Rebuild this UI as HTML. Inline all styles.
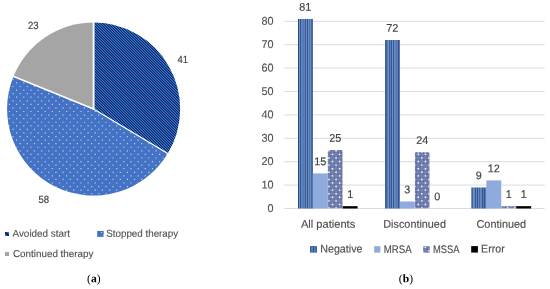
<!DOCTYPE html>
<html><head><meta charset="utf-8"><title>Figure</title>
<style>
html,body{margin:0;padding:0;background:#fff;}
svg{display:block;}
text{font-family:"Liberation Sans",sans-serif;text-rendering:geometricPrecision;}
.s{font-family:"Liberation Serif",serif;}
</style></head><body>
<svg width="550" height="289" viewBox="0 0 550 289">
<defs>
<clipPath id="c1"><path d="M93.60,109.00 L93.60,22.50 A86.50,86.50 0 0 1 167.76,153.53 Z"/></clipPath>
<clipPath id="c2"><path d="M93.60,109.00 L167.76,153.53 A86.50,86.50 0 0 1 13.47,76.41 Z"/></clipPath>
</defs>
<rect width="550" height="289" fill="#ffffff"/>

<g clip-path="url(#c1)"><rect x="91.6" y="21.50" width="90.50" height="175.00" fill="#4c9eeb"/>
<path d="M-89.40,20.50l183.0,183.0M-86.73,20.50l183.0,183.0M-84.07,20.50l183.0,183.0M-81.40,20.50l183.0,183.0M-78.73,20.50l183.0,183.0M-76.07,20.50l183.0,183.0M-73.40,20.50l183.0,183.0M-70.73,20.50l183.0,183.0M-68.07,20.50l183.0,183.0M-65.40,20.50l183.0,183.0M-62.73,20.50l183.0,183.0M-60.07,20.50l183.0,183.0M-57.40,20.50l183.0,183.0M-54.73,20.50l183.0,183.0M-52.07,20.50l183.0,183.0M-49.40,20.50l183.0,183.0M-46.73,20.50l183.0,183.0M-44.07,20.50l183.0,183.0M-41.40,20.50l183.0,183.0M-38.73,20.50l183.0,183.0M-36.07,20.50l183.0,183.0M-33.40,20.50l183.0,183.0M-30.73,20.50l183.0,183.0M-28.07,20.50l183.0,183.0M-25.40,20.50l183.0,183.0M-22.73,20.50l183.0,183.0M-20.07,20.50l183.0,183.0M-17.40,20.50l183.0,183.0M-14.73,20.50l183.0,183.0M-12.07,20.50l183.0,183.0M-9.40,20.50l183.0,183.0M-6.73,20.50l183.0,183.0M-4.07,20.50l183.0,183.0M-1.40,20.50l183.0,183.0M1.27,20.50l183.0,183.0M3.93,20.50l183.0,183.0M6.60,20.50l183.0,183.0M9.27,20.50l183.0,183.0M11.93,20.50l183.0,183.0M14.60,20.50l183.0,183.0M17.27,20.50l183.0,183.0M19.93,20.50l183.0,183.0M22.60,20.50l183.0,183.0M25.27,20.50l183.0,183.0M27.93,20.50l183.0,183.0M30.60,20.50l183.0,183.0M33.27,20.50l183.0,183.0M35.93,20.50l183.0,183.0M38.60,20.50l183.0,183.0M41.27,20.50l183.0,183.0M43.93,20.50l183.0,183.0M46.60,20.50l183.0,183.0M49.27,20.50l183.0,183.0M51.93,20.50l183.0,183.0M54.60,20.50l183.0,183.0M57.27,20.50l183.0,183.0M59.93,20.50l183.0,183.0M62.60,20.50l183.0,183.0M65.27,20.50l183.0,183.0M67.93,20.50l183.0,183.0M70.60,20.50l183.0,183.0M73.27,20.50l183.0,183.0M75.93,20.50l183.0,183.0M78.60,20.50l183.0,183.0M81.27,20.50l183.0,183.0M83.93,20.50l183.0,183.0M86.60,20.50l183.0,183.0M89.27,20.50l183.0,183.0M91.93,20.50l183.0,183.0M94.60,20.50l183.0,183.0M97.27,20.50l183.0,183.0M99.93,20.50l183.0,183.0M102.60,20.50l183.0,183.0M105.27,20.50l183.0,183.0M107.93,20.50l183.0,183.0M110.60,20.50l183.0,183.0M113.27,20.50l183.0,183.0M115.93,20.50l183.0,183.0M118.60,20.50l183.0,183.0M121.27,20.50l183.0,183.0M123.93,20.50l183.0,183.0M126.60,20.50l183.0,183.0M129.27,20.50l183.0,183.0M131.93,20.50l183.0,183.0M134.60,20.50l183.0,183.0M137.27,20.50l183.0,183.0M139.93,20.50l183.0,183.0M142.60,20.50l183.0,183.0M145.27,20.50l183.0,183.0M147.93,20.50l183.0,183.0M150.60,20.50l183.0,183.0M153.27,20.50l183.0,183.0M155.93,20.50l183.0,183.0M158.60,20.50l183.0,183.0M161.27,20.50l183.0,183.0M163.93,20.50l183.0,183.0M166.60,20.50l183.0,183.0M169.27,20.50l183.0,183.0M171.93,20.50l183.0,183.0M174.60,20.50l183.0,183.0M177.27,20.50l183.0,183.0M179.93,20.50l183.0,183.0M182.60,20.50l183.0,183.0" stroke="#000e58" stroke-width="1.04" fill="none"/></g>
<g clip-path="url(#c2)"><rect x="0" y="21.50" width="182.10" height="175.00" fill="#4472c4"/>
<path d="M-5.45,25.70H188.1M-5.45,32.85H188.1M-5.45,40.00H188.1M-5.45,47.15H188.1M-5.45,54.30H188.1M-5.45,61.45H188.1M-5.45,68.60H188.1M-5.45,75.75H188.1M-5.45,82.90H188.1M-5.45,90.05H188.1M-5.45,97.20H188.1M-5.45,104.35H188.1M-5.45,111.50H188.1M-5.45,118.65H188.1M-5.45,125.80H188.1M-5.45,132.95H188.1M-5.45,140.10H188.1M-5.45,147.25H188.1M-5.45,154.40H188.1M-5.45,161.55H188.1M-5.45,168.70H188.1M-5.45,175.85H188.1M-5.45,183.00H188.1M-5.45,190.15H188.1M-5.45,197.30H188.1M-1.88,22.12H188.1M-1.88,29.28H188.1M-1.88,36.42H188.1M-1.88,43.58H188.1M-1.88,50.73H188.1M-1.88,57.88H188.1M-1.88,65.03H188.1M-1.88,72.18H188.1M-1.88,79.33H188.1M-1.88,86.48H188.1M-1.88,93.62H188.1M-1.88,100.78H188.1M-1.88,107.93H188.1M-1.88,115.08H188.1M-1.88,122.23H188.1M-1.88,129.38H188.1M-1.88,136.53H188.1M-1.88,143.68H188.1M-1.88,150.83H188.1M-1.88,157.98H188.1M-1.88,165.12H188.1M-1.88,172.28H188.1M-1.88,179.43H188.1M-1.88,186.58H188.1M-1.88,193.73H188.1" stroke="#bccdec" stroke-width="1.2" stroke-dasharray="1.2 5.95" fill="none"/></g>
<path d="M93.60,109.00 L13.47,76.41 A86.50,86.50 0 0 1 93.60,22.50 Z" fill="#a5a5a5"/>
<path d="M93.60,109.00L93.60,21.50" stroke="#ffffff" stroke-width="1.9" stroke-linecap="round"/>
<path d="M93.60,109.00L168.62,154.04" stroke="#ffffff" stroke-width="1.2" stroke-linecap="round"/>
<path d="M93.60,109.00L12.55,76.04" stroke="#ffffff" stroke-width="1.6" stroke-linecap="round"/>
<g fill="#404040" stroke="#404040" stroke-width="0.15">
<text transform="translate(28.00,28.80) rotate(0.03) scale(0.91,1)" font-size="10.5">23</text>
<text transform="translate(177.50,62.80) rotate(0.03) scale(0.91,1)" font-size="10.5">41</text>
<text transform="translate(38.50,202.70) rotate(0.03) scale(0.91,1)" font-size="10.5">58</text>
</g>
<rect x="5" y="232" width="4" height="4" fill="#2f78cb"/><path d="M5,232h1.4l2.6,2.6v1.4h-1.4l-2.6,-2.6z" fill="#04206e"/>
<rect x="97.2" y="230.9" width="6.5" height="6" fill="#4472c4"/><rect x="101" y="232" width="1.1" height="1.1" fill="#bccdec"/><rect x="102.6" y="234.6" width="1.1" height="1.1" fill="#bccdec"/>
<rect x="5" y="252.1" width="4" height="3.9" fill="#a5a5a5"/>
<g font-size="9.9" fill="#505050" stroke="#505050" stroke-width="0.12">
<text transform="translate(12.5,236.8) rotate(0.03)" textLength="57.6" lengthAdjust="spacingAndGlyphs">Avoided start</text>
<text transform="translate(106.2,236.8) rotate(0.03)" textLength="72" lengthAdjust="spacingAndGlyphs">Stopped therapy</text>
<text transform="translate(12.9,257) rotate(0.03)" textLength="80.6" lengthAdjust="spacingAndGlyphs">Continued therapy</text>
</g>
<text class="s" transform="translate(87.1,282.2) rotate(0.03)" font-size="11.6" fill="#000">(<tspan font-weight="bold">a</tspan>)</text>
<text class="s" transform="translate(398.8,282.2) rotate(0.03)" font-size="11.6" fill="#000">(<tspan font-weight="bold">b</tspan>)</text>
<line x1="284.3" x2="544.6" y1="208.50" y2="208.50" stroke="#d9d9d9" stroke-width="0.95"/>
<line x1="284.3" x2="544.6" y1="185.10" y2="185.10" stroke="#d9d9d9" stroke-width="0.95"/>
<line x1="284.3" x2="544.6" y1="161.70" y2="161.70" stroke="#d9d9d9" stroke-width="0.95"/>
<line x1="284.3" x2="544.6" y1="138.30" y2="138.30" stroke="#d9d9d9" stroke-width="0.95"/>
<line x1="284.3" x2="544.6" y1="114.90" y2="114.90" stroke="#d9d9d9" stroke-width="0.95"/>
<line x1="284.3" x2="544.6" y1="91.50" y2="91.50" stroke="#d9d9d9" stroke-width="0.95"/>
<line x1="284.3" x2="544.6" y1="68.10" y2="68.10" stroke="#d9d9d9" stroke-width="0.95"/>
<line x1="284.3" x2="544.6" y1="44.70" y2="44.70" stroke="#d9d9d9" stroke-width="0.95"/>
<line x1="284.3" x2="544.6" y1="21.30" y2="21.30" stroke="#d9d9d9" stroke-width="0.95"/>
<g fill="#505050" stroke="#505050" stroke-width="0.12">
<text transform="translate(273.60,211.90) rotate(0.03) scale(0.96,1)" font-size="11.3" text-anchor="end">0</text>
<text transform="translate(273.60,188.50) rotate(0.03) scale(0.96,1)" font-size="11.3" text-anchor="end">10</text>
<text transform="translate(273.60,165.10) rotate(0.03) scale(0.96,1)" font-size="11.3" text-anchor="end">20</text>
<text transform="translate(273.60,141.70) rotate(0.03) scale(0.96,1)" font-size="11.3" text-anchor="end">30</text>
<text transform="translate(273.60,118.30) rotate(0.03) scale(0.96,1)" font-size="11.3" text-anchor="end">40</text>
<text transform="translate(273.60,94.90) rotate(0.03) scale(0.96,1)" font-size="11.3" text-anchor="end">50</text>
<text transform="translate(273.60,71.50) rotate(0.03) scale(0.96,1)" font-size="11.3" text-anchor="end">60</text>
<text transform="translate(273.60,48.10) rotate(0.03) scale(0.96,1)" font-size="11.3" text-anchor="end">70</text>
<text transform="translate(273.60,24.70) rotate(0.03) scale(0.96,1)" font-size="11.3" text-anchor="end">80</text>
</g>
<rect x="298" y="18.96" width="1" height="189.54" fill="#284b87"/>
<rect x="299" y="18.96" width="1" height="189.54" fill="#6996c3"/>
<rect x="300" y="18.96" width="1" height="189.54" fill="#375096"/>
<rect x="301" y="18.96" width="1" height="189.54" fill="#6487b9"/>
<rect x="302" y="18.96" width="1" height="189.54" fill="#5a7db4"/>
<rect x="303" y="18.96" width="1" height="189.54" fill="#5578b4"/>
<rect x="304" y="18.96" width="1" height="189.54" fill="#5f82b9"/>
<rect x="305" y="18.96" width="1" height="189.54" fill="#395a96"/>
<rect x="306" y="18.96" width="1" height="189.54" fill="#6e91c3"/>
<rect x="307" y="18.96" width="1" height="189.54" fill="#325596"/>
<rect x="308" y="18.96" width="1" height="189.54" fill="#6991be"/>
<rect x="309" y="18.96" width="1" height="189.54" fill="#5073af"/>
<rect x="310" y="18.96" width="1" height="189.54" fill="#648cb9"/>
<rect x="311" y="18.96" width="1" height="189.54" fill="#4669a5"/>
<rect x="312" y="18.96" width="1" height="189.54" fill="#4b6ea5"/>
<rect x="312.83" y="173.40" width="14.93" height="35.10" fill="#8faadc"/>
<clipPath id="m1"><rect x="327.76" y="150.00" width="14.93" height="58.50"/></clipPath>
<g clip-path="url(#m1)"><rect x="327.76" y="150.00" width="14.93" height="58.50" fill="#7281af"/>
<path d="M322.61,149.04l0.95,-0.95l0.95,0.95l-0.95,0.95zM326.19,149.04l0.95,-0.95l0.95,0.95l-0.95,0.95zM329.76,149.04l0.95,-0.95l0.95,0.95l-0.95,0.95zM333.34,149.04l0.95,-0.95l0.95,0.95l-0.95,0.95zM336.91,149.04l0.95,-0.95l0.95,0.95l-0.95,0.95zM340.49,149.04l0.95,-0.95l0.95,0.95l-0.95,0.95zM322.61,152.61l0.95,-0.95l0.95,0.95l-0.95,0.95zM326.19,152.61l0.95,-0.95l0.95,0.95l-0.95,0.95zM329.76,152.61l0.95,-0.95l0.95,0.95l-0.95,0.95zM333.34,152.61l0.95,-0.95l0.95,0.95l-0.95,0.95zM336.91,152.61l0.95,-0.95l0.95,0.95l-0.95,0.95zM340.49,152.61l0.95,-0.95l0.95,0.95l-0.95,0.95zM322.61,156.19l0.95,-0.95l0.95,0.95l-0.95,0.95zM326.19,156.19l0.95,-0.95l0.95,0.95l-0.95,0.95zM329.76,156.19l0.95,-0.95l0.95,0.95l-0.95,0.95zM333.34,156.19l0.95,-0.95l0.95,0.95l-0.95,0.95zM336.91,156.19l0.95,-0.95l0.95,0.95l-0.95,0.95zM340.49,156.19l0.95,-0.95l0.95,0.95l-0.95,0.95zM322.61,159.76l0.95,-0.95l0.95,0.95l-0.95,0.95zM326.19,159.76l0.95,-0.95l0.95,0.95l-0.95,0.95zM329.76,159.76l0.95,-0.95l0.95,0.95l-0.95,0.95zM333.34,159.76l0.95,-0.95l0.95,0.95l-0.95,0.95zM336.91,159.76l0.95,-0.95l0.95,0.95l-0.95,0.95zM340.49,159.76l0.95,-0.95l0.95,0.95l-0.95,0.95zM322.61,163.34l0.95,-0.95l0.95,0.95l-0.95,0.95zM326.19,163.34l0.95,-0.95l0.95,0.95l-0.95,0.95zM329.76,163.34l0.95,-0.95l0.95,0.95l-0.95,0.95zM333.34,163.34l0.95,-0.95l0.95,0.95l-0.95,0.95zM336.91,163.34l0.95,-0.95l0.95,0.95l-0.95,0.95zM340.49,163.34l0.95,-0.95l0.95,0.95l-0.95,0.95zM322.61,166.91l0.95,-0.95l0.95,0.95l-0.95,0.95zM326.19,166.91l0.95,-0.95l0.95,0.95l-0.95,0.95zM329.76,166.91l0.95,-0.95l0.95,0.95l-0.95,0.95zM333.34,166.91l0.95,-0.95l0.95,0.95l-0.95,0.95zM336.91,166.91l0.95,-0.95l0.95,0.95l-0.95,0.95zM340.49,166.91l0.95,-0.95l0.95,0.95l-0.95,0.95zM322.61,170.49l0.95,-0.95l0.95,0.95l-0.95,0.95zM326.19,170.49l0.95,-0.95l0.95,0.95l-0.95,0.95zM329.76,170.49l0.95,-0.95l0.95,0.95l-0.95,0.95zM333.34,170.49l0.95,-0.95l0.95,0.95l-0.95,0.95zM336.91,170.49l0.95,-0.95l0.95,0.95l-0.95,0.95zM340.49,170.49l0.95,-0.95l0.95,0.95l-0.95,0.95zM322.61,174.06l0.95,-0.95l0.95,0.95l-0.95,0.95zM326.19,174.06l0.95,-0.95l0.95,0.95l-0.95,0.95zM329.76,174.06l0.95,-0.95l0.95,0.95l-0.95,0.95zM333.34,174.06l0.95,-0.95l0.95,0.95l-0.95,0.95zM336.91,174.06l0.95,-0.95l0.95,0.95l-0.95,0.95zM340.49,174.06l0.95,-0.95l0.95,0.95l-0.95,0.95zM322.61,177.64l0.95,-0.95l0.95,0.95l-0.95,0.95zM326.19,177.64l0.95,-0.95l0.95,0.95l-0.95,0.95zM329.76,177.64l0.95,-0.95l0.95,0.95l-0.95,0.95zM333.34,177.64l0.95,-0.95l0.95,0.95l-0.95,0.95zM336.91,177.64l0.95,-0.95l0.95,0.95l-0.95,0.95zM340.49,177.64l0.95,-0.95l0.95,0.95l-0.95,0.95zM322.61,181.21l0.95,-0.95l0.95,0.95l-0.95,0.95zM326.19,181.21l0.95,-0.95l0.95,0.95l-0.95,0.95zM329.76,181.21l0.95,-0.95l0.95,0.95l-0.95,0.95zM333.34,181.21l0.95,-0.95l0.95,0.95l-0.95,0.95zM336.91,181.21l0.95,-0.95l0.95,0.95l-0.95,0.95zM340.49,181.21l0.95,-0.95l0.95,0.95l-0.95,0.95zM322.61,184.79l0.95,-0.95l0.95,0.95l-0.95,0.95zM326.19,184.79l0.95,-0.95l0.95,0.95l-0.95,0.95zM329.76,184.79l0.95,-0.95l0.95,0.95l-0.95,0.95zM333.34,184.79l0.95,-0.95l0.95,0.95l-0.95,0.95zM336.91,184.79l0.95,-0.95l0.95,0.95l-0.95,0.95zM340.49,184.79l0.95,-0.95l0.95,0.95l-0.95,0.95zM322.61,188.36l0.95,-0.95l0.95,0.95l-0.95,0.95zM326.19,188.36l0.95,-0.95l0.95,0.95l-0.95,0.95zM329.76,188.36l0.95,-0.95l0.95,0.95l-0.95,0.95zM333.34,188.36l0.95,-0.95l0.95,0.95l-0.95,0.95zM336.91,188.36l0.95,-0.95l0.95,0.95l-0.95,0.95zM340.49,188.36l0.95,-0.95l0.95,0.95l-0.95,0.95zM322.61,191.94l0.95,-0.95l0.95,0.95l-0.95,0.95zM326.19,191.94l0.95,-0.95l0.95,0.95l-0.95,0.95zM329.76,191.94l0.95,-0.95l0.95,0.95l-0.95,0.95zM333.34,191.94l0.95,-0.95l0.95,0.95l-0.95,0.95zM336.91,191.94l0.95,-0.95l0.95,0.95l-0.95,0.95zM340.49,191.94l0.95,-0.95l0.95,0.95l-0.95,0.95zM322.61,195.51l0.95,-0.95l0.95,0.95l-0.95,0.95zM326.19,195.51l0.95,-0.95l0.95,0.95l-0.95,0.95zM329.76,195.51l0.95,-0.95l0.95,0.95l-0.95,0.95zM333.34,195.51l0.95,-0.95l0.95,0.95l-0.95,0.95zM336.91,195.51l0.95,-0.95l0.95,0.95l-0.95,0.95zM340.49,195.51l0.95,-0.95l0.95,0.95l-0.95,0.95zM322.61,199.09l0.95,-0.95l0.95,0.95l-0.95,0.95zM326.19,199.09l0.95,-0.95l0.95,0.95l-0.95,0.95zM329.76,199.09l0.95,-0.95l0.95,0.95l-0.95,0.95zM333.34,199.09l0.95,-0.95l0.95,0.95l-0.95,0.95zM336.91,199.09l0.95,-0.95l0.95,0.95l-0.95,0.95zM340.49,199.09l0.95,-0.95l0.95,0.95l-0.95,0.95zM322.61,202.66l0.95,-0.95l0.95,0.95l-0.95,0.95zM326.19,202.66l0.95,-0.95l0.95,0.95l-0.95,0.95zM329.76,202.66l0.95,-0.95l0.95,0.95l-0.95,0.95zM333.34,202.66l0.95,-0.95l0.95,0.95l-0.95,0.95zM336.91,202.66l0.95,-0.95l0.95,0.95l-0.95,0.95zM340.49,202.66l0.95,-0.95l0.95,0.95l-0.95,0.95zM322.61,206.24l0.95,-0.95l0.95,0.95l-0.95,0.95zM326.19,206.24l0.95,-0.95l0.95,0.95l-0.95,0.95zM329.76,206.24l0.95,-0.95l0.95,0.95l-0.95,0.95zM333.34,206.24l0.95,-0.95l0.95,0.95l-0.95,0.95zM336.91,206.24l0.95,-0.95l0.95,0.95l-0.95,0.95zM340.49,206.24l0.95,-0.95l0.95,0.95l-0.95,0.95zM322.61,209.81l0.95,-0.95l0.95,0.95l-0.95,0.95zM326.19,209.81l0.95,-0.95l0.95,0.95l-0.95,0.95zM329.76,209.81l0.95,-0.95l0.95,0.95l-0.95,0.95zM333.34,209.81l0.95,-0.95l0.95,0.95l-0.95,0.95zM336.91,209.81l0.95,-0.95l0.95,0.95l-0.95,0.95zM340.49,209.81l0.95,-0.95l0.95,0.95l-0.95,0.95z" fill="#5a6998"/>
<path d="M317.50,154.40H344.7M317.50,161.55H344.7M317.50,168.70H344.7M317.50,175.85H344.7M317.50,183.00H344.7M317.50,190.15H344.7M317.50,197.30H344.7M317.50,204.45H344.7M313.93,150.82H344.7M313.93,157.97H344.7M313.93,165.12H344.7M313.93,172.28H344.7M313.93,179.43H344.7M313.93,186.57H344.7M313.93,193.72H344.7M313.93,200.88H344.7M313.93,208.03H344.7" stroke="#ffffff" stroke-width="1.4" stroke-dasharray="1.4 5.75" fill="none"/></g>
<rect x="342.69" y="206.16" width="14.93" height="2.34" fill="#000000"/>
<rect x="385" y="40.02" width="1" height="168.48" fill="#4164a0"/>
<rect x="386" y="40.02" width="1" height="168.48" fill="#415fa0"/>
<rect x="387" y="40.02" width="1" height="168.48" fill="#557db4"/>
<rect x="388" y="40.02" width="1" height="168.48" fill="#6996c3"/>
<rect x="389" y="40.02" width="1" height="168.48" fill="#3c5aa0"/>
<rect x="390" y="40.02" width="1" height="168.48" fill="#5f82be"/>
<rect x="391" y="40.02" width="1" height="168.48" fill="#325596"/>
<rect x="392" y="40.02" width="1" height="168.48" fill="#6e91c3"/>
<rect x="393" y="40.02" width="1" height="168.48" fill="#375a96"/>
<rect x="394" y="40.02" width="1" height="168.48" fill="#6487be"/>
<rect x="395" y="40.02" width="1" height="168.48" fill="#5f82b9"/>
<rect x="396" y="40.02" width="1" height="168.48" fill="#5578af"/>
<rect x="397" y="40.02" width="1" height="168.48" fill="#5a7db4"/>
<rect x="398" y="40.02" width="1" height="168.48" fill="#375596"/>
<rect x="399" y="40.02" width="1" height="168.48" fill="#5a78af"/>
<rect x="399.83" y="201.48" width="14.93" height="7.02" fill="#8faadc"/>
<clipPath id="m2"><rect x="414.76" y="152.34" width="14.93" height="56.16"/></clipPath>
<g clip-path="url(#m2)"><rect x="414.76" y="152.34" width="14.93" height="56.16" fill="#7281af"/>
<path d="M408.41,152.61l0.95,-0.95l0.95,0.95l-0.95,0.95zM411.99,152.61l0.95,-0.95l0.95,0.95l-0.95,0.95zM415.56,152.61l0.95,-0.95l0.95,0.95l-0.95,0.95zM419.14,152.61l0.95,-0.95l0.95,0.95l-0.95,0.95zM422.71,152.61l0.95,-0.95l0.95,0.95l-0.95,0.95zM426.29,152.61l0.95,-0.95l0.95,0.95l-0.95,0.95zM429.86,152.61l0.95,-0.95l0.95,0.95l-0.95,0.95zM408.41,156.19l0.95,-0.95l0.95,0.95l-0.95,0.95zM411.99,156.19l0.95,-0.95l0.95,0.95l-0.95,0.95zM415.56,156.19l0.95,-0.95l0.95,0.95l-0.95,0.95zM419.14,156.19l0.95,-0.95l0.95,0.95l-0.95,0.95zM422.71,156.19l0.95,-0.95l0.95,0.95l-0.95,0.95zM426.29,156.19l0.95,-0.95l0.95,0.95l-0.95,0.95zM429.86,156.19l0.95,-0.95l0.95,0.95l-0.95,0.95zM408.41,159.76l0.95,-0.95l0.95,0.95l-0.95,0.95zM411.99,159.76l0.95,-0.95l0.95,0.95l-0.95,0.95zM415.56,159.76l0.95,-0.95l0.95,0.95l-0.95,0.95zM419.14,159.76l0.95,-0.95l0.95,0.95l-0.95,0.95zM422.71,159.76l0.95,-0.95l0.95,0.95l-0.95,0.95zM426.29,159.76l0.95,-0.95l0.95,0.95l-0.95,0.95zM429.86,159.76l0.95,-0.95l0.95,0.95l-0.95,0.95zM408.41,163.34l0.95,-0.95l0.95,0.95l-0.95,0.95zM411.99,163.34l0.95,-0.95l0.95,0.95l-0.95,0.95zM415.56,163.34l0.95,-0.95l0.95,0.95l-0.95,0.95zM419.14,163.34l0.95,-0.95l0.95,0.95l-0.95,0.95zM422.71,163.34l0.95,-0.95l0.95,0.95l-0.95,0.95zM426.29,163.34l0.95,-0.95l0.95,0.95l-0.95,0.95zM429.86,163.34l0.95,-0.95l0.95,0.95l-0.95,0.95zM408.41,166.91l0.95,-0.95l0.95,0.95l-0.95,0.95zM411.99,166.91l0.95,-0.95l0.95,0.95l-0.95,0.95zM415.56,166.91l0.95,-0.95l0.95,0.95l-0.95,0.95zM419.14,166.91l0.95,-0.95l0.95,0.95l-0.95,0.95zM422.71,166.91l0.95,-0.95l0.95,0.95l-0.95,0.95zM426.29,166.91l0.95,-0.95l0.95,0.95l-0.95,0.95zM429.86,166.91l0.95,-0.95l0.95,0.95l-0.95,0.95zM408.41,170.49l0.95,-0.95l0.95,0.95l-0.95,0.95zM411.99,170.49l0.95,-0.95l0.95,0.95l-0.95,0.95zM415.56,170.49l0.95,-0.95l0.95,0.95l-0.95,0.95zM419.14,170.49l0.95,-0.95l0.95,0.95l-0.95,0.95zM422.71,170.49l0.95,-0.95l0.95,0.95l-0.95,0.95zM426.29,170.49l0.95,-0.95l0.95,0.95l-0.95,0.95zM429.86,170.49l0.95,-0.95l0.95,0.95l-0.95,0.95zM408.41,174.06l0.95,-0.95l0.95,0.95l-0.95,0.95zM411.99,174.06l0.95,-0.95l0.95,0.95l-0.95,0.95zM415.56,174.06l0.95,-0.95l0.95,0.95l-0.95,0.95zM419.14,174.06l0.95,-0.95l0.95,0.95l-0.95,0.95zM422.71,174.06l0.95,-0.95l0.95,0.95l-0.95,0.95zM426.29,174.06l0.95,-0.95l0.95,0.95l-0.95,0.95zM429.86,174.06l0.95,-0.95l0.95,0.95l-0.95,0.95zM408.41,177.64l0.95,-0.95l0.95,0.95l-0.95,0.95zM411.99,177.64l0.95,-0.95l0.95,0.95l-0.95,0.95zM415.56,177.64l0.95,-0.95l0.95,0.95l-0.95,0.95zM419.14,177.64l0.95,-0.95l0.95,0.95l-0.95,0.95zM422.71,177.64l0.95,-0.95l0.95,0.95l-0.95,0.95zM426.29,177.64l0.95,-0.95l0.95,0.95l-0.95,0.95zM429.86,177.64l0.95,-0.95l0.95,0.95l-0.95,0.95zM408.41,181.21l0.95,-0.95l0.95,0.95l-0.95,0.95zM411.99,181.21l0.95,-0.95l0.95,0.95l-0.95,0.95zM415.56,181.21l0.95,-0.95l0.95,0.95l-0.95,0.95zM419.14,181.21l0.95,-0.95l0.95,0.95l-0.95,0.95zM422.71,181.21l0.95,-0.95l0.95,0.95l-0.95,0.95zM426.29,181.21l0.95,-0.95l0.95,0.95l-0.95,0.95zM429.86,181.21l0.95,-0.95l0.95,0.95l-0.95,0.95zM408.41,184.79l0.95,-0.95l0.95,0.95l-0.95,0.95zM411.99,184.79l0.95,-0.95l0.95,0.95l-0.95,0.95zM415.56,184.79l0.95,-0.95l0.95,0.95l-0.95,0.95zM419.14,184.79l0.95,-0.95l0.95,0.95l-0.95,0.95zM422.71,184.79l0.95,-0.95l0.95,0.95l-0.95,0.95zM426.29,184.79l0.95,-0.95l0.95,0.95l-0.95,0.95zM429.86,184.79l0.95,-0.95l0.95,0.95l-0.95,0.95zM408.41,188.36l0.95,-0.95l0.95,0.95l-0.95,0.95zM411.99,188.36l0.95,-0.95l0.95,0.95l-0.95,0.95zM415.56,188.36l0.95,-0.95l0.95,0.95l-0.95,0.95zM419.14,188.36l0.95,-0.95l0.95,0.95l-0.95,0.95zM422.71,188.36l0.95,-0.95l0.95,0.95l-0.95,0.95zM426.29,188.36l0.95,-0.95l0.95,0.95l-0.95,0.95zM429.86,188.36l0.95,-0.95l0.95,0.95l-0.95,0.95zM408.41,191.94l0.95,-0.95l0.95,0.95l-0.95,0.95zM411.99,191.94l0.95,-0.95l0.95,0.95l-0.95,0.95zM415.56,191.94l0.95,-0.95l0.95,0.95l-0.95,0.95zM419.14,191.94l0.95,-0.95l0.95,0.95l-0.95,0.95zM422.71,191.94l0.95,-0.95l0.95,0.95l-0.95,0.95zM426.29,191.94l0.95,-0.95l0.95,0.95l-0.95,0.95zM429.86,191.94l0.95,-0.95l0.95,0.95l-0.95,0.95zM408.41,195.51l0.95,-0.95l0.95,0.95l-0.95,0.95zM411.99,195.51l0.95,-0.95l0.95,0.95l-0.95,0.95zM415.56,195.51l0.95,-0.95l0.95,0.95l-0.95,0.95zM419.14,195.51l0.95,-0.95l0.95,0.95l-0.95,0.95zM422.71,195.51l0.95,-0.95l0.95,0.95l-0.95,0.95zM426.29,195.51l0.95,-0.95l0.95,0.95l-0.95,0.95zM429.86,195.51l0.95,-0.95l0.95,0.95l-0.95,0.95zM408.41,199.09l0.95,-0.95l0.95,0.95l-0.95,0.95zM411.99,199.09l0.95,-0.95l0.95,0.95l-0.95,0.95zM415.56,199.09l0.95,-0.95l0.95,0.95l-0.95,0.95zM419.14,199.09l0.95,-0.95l0.95,0.95l-0.95,0.95zM422.71,199.09l0.95,-0.95l0.95,0.95l-0.95,0.95zM426.29,199.09l0.95,-0.95l0.95,0.95l-0.95,0.95zM429.86,199.09l0.95,-0.95l0.95,0.95l-0.95,0.95zM408.41,202.66l0.95,-0.95l0.95,0.95l-0.95,0.95zM411.99,202.66l0.95,-0.95l0.95,0.95l-0.95,0.95zM415.56,202.66l0.95,-0.95l0.95,0.95l-0.95,0.95zM419.14,202.66l0.95,-0.95l0.95,0.95l-0.95,0.95zM422.71,202.66l0.95,-0.95l0.95,0.95l-0.95,0.95zM426.29,202.66l0.95,-0.95l0.95,0.95l-0.95,0.95zM429.86,202.66l0.95,-0.95l0.95,0.95l-0.95,0.95zM408.41,206.24l0.95,-0.95l0.95,0.95l-0.95,0.95zM411.99,206.24l0.95,-0.95l0.95,0.95l-0.95,0.95zM415.56,206.24l0.95,-0.95l0.95,0.95l-0.95,0.95zM419.14,206.24l0.95,-0.95l0.95,0.95l-0.95,0.95zM422.71,206.24l0.95,-0.95l0.95,0.95l-0.95,0.95zM426.29,206.24l0.95,-0.95l0.95,0.95l-0.95,0.95zM429.86,206.24l0.95,-0.95l0.95,0.95l-0.95,0.95zM408.41,209.81l0.95,-0.95l0.95,0.95l-0.95,0.95zM411.99,209.81l0.95,-0.95l0.95,0.95l-0.95,0.95zM415.56,209.81l0.95,-0.95l0.95,0.95l-0.95,0.95zM419.14,209.81l0.95,-0.95l0.95,0.95l-0.95,0.95zM422.71,209.81l0.95,-0.95l0.95,0.95l-0.95,0.95zM426.29,209.81l0.95,-0.95l0.95,0.95l-0.95,0.95zM429.86,209.81l0.95,-0.95l0.95,0.95l-0.95,0.95z" fill="#5a6998"/>
<path d="M403.30,154.40H431.7M403.30,161.55H431.7M403.30,168.70H431.7M403.30,175.85H431.7M403.30,183.00H431.7M403.30,190.15H431.7M403.30,197.30H431.7M403.30,204.45H431.7M406.88,150.82H431.7M406.88,157.97H431.7M406.88,165.12H431.7M406.88,172.28H431.7M406.88,179.43H431.7M406.88,186.57H431.7M406.88,193.72H431.7M406.88,200.88H431.7M406.88,208.03H431.7" stroke="#ffffff" stroke-width="1.4" stroke-dasharray="1.4 5.75" fill="none"/></g>
<rect x="471" y="187.44" width="1" height="21.06" fill="#7891c3"/>
<rect x="472" y="187.44" width="1" height="21.06" fill="#4164a0"/>
<rect x="473" y="187.44" width="1" height="21.06" fill="#6991c3"/>
<rect x="474" y="187.44" width="1" height="21.06" fill="#6487be"/>
<rect x="475" y="187.44" width="1" height="21.06" fill="#325596"/>
<rect x="476" y="187.44" width="1" height="21.06" fill="#648cbe"/>
<rect x="477" y="187.44" width="1" height="21.06" fill="#2d5091"/>
<rect x="478" y="187.44" width="1" height="21.06" fill="#648cbe"/>
<rect x="479" y="187.44" width="1" height="21.06" fill="#4664a0"/>
<rect x="480" y="187.44" width="1" height="21.06" fill="#6487be"/>
<rect x="481" y="187.44" width="1" height="21.06" fill="#6487b9"/>
<rect x="482" y="187.44" width="1" height="21.06" fill="#375596"/>
<rect x="483" y="187.44" width="1" height="21.06" fill="#5578af"/>
<rect x="484" y="187.44" width="1" height="21.06" fill="#325096"/>
<rect x="485" y="187.44" width="1" height="21.06" fill="#5a7db4"/>
<rect x="486" y="187.44" width="1" height="21.06" fill="#82a0d2"/>
<rect x="486.33" y="180.42" width="14.93" height="28.08" fill="#8faadc"/>
<clipPath id="m3"><rect x="501.26" y="206.16" width="14.93" height="2.34"/></clipPath>
<g clip-path="url(#m3)"><rect x="501.26" y="206.16" width="14.93" height="2.34" fill="#7281af"/>
<path d="M494.21,206.24l0.95,-0.95l0.95,0.95l-0.95,0.95zM497.79,206.24l0.95,-0.95l0.95,0.95l-0.95,0.95zM501.36,206.24l0.95,-0.95l0.95,0.95l-0.95,0.95zM504.94,206.24l0.95,-0.95l0.95,0.95l-0.95,0.95zM508.51,206.24l0.95,-0.95l0.95,0.95l-0.95,0.95zM512.09,206.24l0.95,-0.95l0.95,0.95l-0.95,0.95zM515.66,206.24l0.95,-0.95l0.95,0.95l-0.95,0.95zM494.21,209.81l0.95,-0.95l0.95,0.95l-0.95,0.95zM497.79,209.81l0.95,-0.95l0.95,0.95l-0.95,0.95zM501.36,209.81l0.95,-0.95l0.95,0.95l-0.95,0.95zM504.94,209.81l0.95,-0.95l0.95,0.95l-0.95,0.95zM508.51,209.81l0.95,-0.95l0.95,0.95l-0.95,0.95zM512.09,209.81l0.95,-0.95l0.95,0.95l-0.95,0.95zM515.66,209.81l0.95,-0.95l0.95,0.95l-0.95,0.95z" fill="#5a6998"/>
<path d="M489.10,204.45H518.2M492.68,208.03H518.2" stroke="#ffffff" stroke-width="1.4" stroke-dasharray="1.4 5.75" fill="none"/></g>
<rect x="516.19" y="206.16" width="14.93" height="2.34" fill="#000000"/>
<g fill="#404040" stroke="#404040" stroke-width="0.15">
<text transform="translate(305.36,10.71) rotate(0.03) scale(0.97,1)" font-size="11.15" text-anchor="middle">81</text>
<text transform="translate(320.29,165.15) rotate(0.03) scale(0.97,1)" font-size="11.15" text-anchor="middle">15</text>
<text transform="translate(335.22,141.75) rotate(0.03) scale(0.97,1)" font-size="11.15" text-anchor="middle">25</text>
<text transform="translate(350.15,197.91) rotate(0.03) scale(0.97,1)" font-size="11.15" text-anchor="middle">1</text>
<text transform="translate(392.36,31.77) rotate(0.03) scale(0.97,1)" font-size="11.15" text-anchor="middle">72</text>
<text transform="translate(407.29,193.23) rotate(0.03) scale(0.97,1)" font-size="11.15" text-anchor="middle">3</text>
<text transform="translate(422.22,144.09) rotate(0.03) scale(0.97,1)" font-size="11.15" text-anchor="middle">24</text>
<text transform="translate(437.15,200.25) rotate(0.03) scale(0.97,1)" font-size="11.15" text-anchor="middle">0</text>
<text transform="translate(478.86,179.19) rotate(0.03) scale(0.97,1)" font-size="11.15" text-anchor="middle">9</text>
<text transform="translate(493.79,172.17) rotate(0.03) scale(0.97,1)" font-size="11.15" text-anchor="middle">12</text>
<text transform="translate(508.72,197.91) rotate(0.03) scale(0.97,1)" font-size="11.15" text-anchor="middle">1</text>
<text transform="translate(523.65,197.91) rotate(0.03) scale(0.97,1)" font-size="11.15" text-anchor="middle">1</text>
</g>
<g font-size="11" fill="#4d4d4d" stroke="#4d4d4d" stroke-width="0.15">
<text transform="translate(300.9,227.8) rotate(0.03)" textLength="54.3" lengthAdjust="spacingAndGlyphs">All patients</text>
<text transform="translate(383.3,227.8) rotate(0.03)" textLength="62.6" lengthAdjust="spacingAndGlyphs">Discontinued</text>
<text transform="translate(476.5,227.8) rotate(0.03)" textLength="49.6" lengthAdjust="spacingAndGlyphs">Continued</text>
<text transform="translate(320.2,252.6) rotate(0.03)" textLength="42.3" lengthAdjust="spacingAndGlyphs">Negative</text>
<text transform="translate(383.8,252.6) rotate(0.03)" textLength="27.9" lengthAdjust="spacingAndGlyphs">MRSA</text>
<text transform="translate(432.9,252.6) rotate(0.03)" textLength="26.6" lengthAdjust="spacingAndGlyphs">MSSA</text>
<text transform="translate(481.1,252.6) rotate(0.03)" textLength="23.6" lengthAdjust="spacingAndGlyphs">Error</text>
</g>
<rect x="310.2" y="246" width="6.8" height="6.6" fill="#5c82ba"/><path d="M310.2,246h1v6.6h-1zM312.9,246h1v6.6h-1zM315.6,246h1v6.6h-1z" fill="#2c5194"/>
<rect x="374.2" y="246.2" width="6.2" height="6.4" fill="#8faadc"/>
<rect x="423.3" y="246.2" width="6.4" height="6.4" fill="#7281af"/><rect x="424.7" y="246.7" width="1.3" height="1.3" fill="#fff"/><rect x="428.3" y="250.3" width="1.3" height="1.3" fill="#fff"/><path d="M426.5,248.5h1.3v1.3h-1.3zM426.5,252h1.3v.6h-1.3zM423.3,248.5h.9v1.3h-.9zM426.5,246.2h1.3v.3h-1.3z" fill="#5a6998"/>
<rect x="471.2" y="246.1" width="6.7" height="6.5" fill="#000000"/>
</svg></body></html>
